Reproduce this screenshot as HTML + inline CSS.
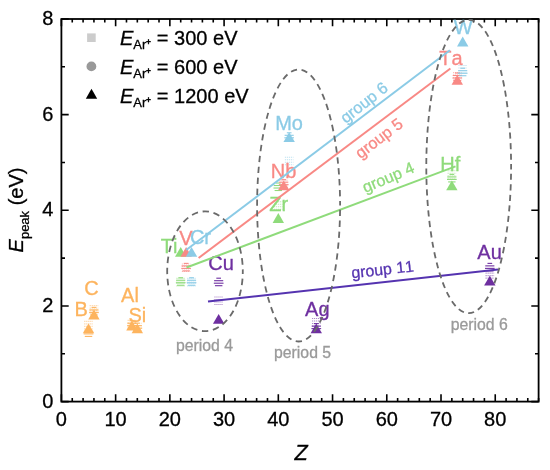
<!DOCTYPE html><html><head><meta charset="utf-8"><style>html,body{margin:0;padding:0;background:#fff;}svg{display:block;}</style></head><body>
<svg width="550" height="470" viewBox="0 0 550 470" style="font-family:'Liberation Sans',Arial,sans-serif;font-kerning:none">
<rect width="550" height="470" fill="#fff"/>
<path d="M61.40,401.60v-7.3M61.40,19v7.3M72.25,401.60v-3.6M72.25,19v3.6M83.09,401.60v-3.6M83.09,19v3.6M93.94,401.60v-3.6M93.94,19v3.6M104.78,401.60v-3.6M104.78,19v3.6M115.63,401.60v-7.3M115.63,19v7.3M126.48,401.60v-3.6M126.48,19v3.6M137.32,401.60v-3.6M137.32,19v3.6M148.17,401.60v-3.6M148.17,19v3.6M159.01,401.60v-3.6M159.01,19v3.6M169.86,401.60v-7.3M169.86,19v7.3M180.71,401.60v-3.6M180.71,19v3.6M191.55,401.60v-3.6M191.55,19v3.6M202.40,401.60v-3.6M202.40,19v3.6M213.24,401.60v-3.6M213.24,19v3.6M224.09,401.60v-7.3M224.09,19v7.3M234.94,401.60v-3.6M234.94,19v3.6M245.78,401.60v-3.6M245.78,19v3.6M256.63,401.60v-3.6M256.63,19v3.6M267.47,401.60v-3.6M267.47,19v3.6M278.32,401.60v-7.3M278.32,19v7.3M289.17,401.60v-3.6M289.17,19v3.6M300.01,401.60v-3.6M300.01,19v3.6M310.86,401.60v-3.6M310.86,19v3.6M321.70,401.60v-3.6M321.70,19v3.6M332.55,401.60v-7.3M332.55,19v7.3M343.40,401.60v-3.6M343.40,19v3.6M354.24,401.60v-3.6M354.24,19v3.6M365.09,401.60v-3.6M365.09,19v3.6M375.93,401.60v-3.6M375.93,19v3.6M386.78,401.60v-7.3M386.78,19v7.3M397.63,401.60v-3.6M397.63,19v3.6M408.47,401.60v-3.6M408.47,19v3.6M419.32,401.60v-3.6M419.32,19v3.6M430.16,401.60v-3.6M430.16,19v3.6M441.01,401.60v-7.3M441.01,19v7.3M451.86,401.60v-3.6M451.86,19v3.6M462.70,401.60v-3.6M462.70,19v3.6M473.55,401.60v-3.6M473.55,19v3.6M484.39,401.60v-3.6M484.39,19v3.6M495.24,401.60v-7.3M495.24,19v7.3M506.09,401.60v-3.6M506.09,19v3.6M516.93,401.60v-3.6M516.93,19v3.6M527.78,401.60v-3.6M527.78,19v3.6M538.62,401.60v-3.6M538.62,19v3.6M61.40,401.60h7.3M538.6,401.60h-7.3M61.40,353.77h3.6M538.6,353.77h-3.6M61.40,305.94h7.3M538.6,305.94h-7.3M61.40,258.11h3.6M538.6,258.11h-3.6M61.40,210.28h7.3M538.6,210.28h-7.3M61.40,162.45h3.6M538.6,162.45h-3.6M61.40,114.62h7.3M538.6,114.62h-7.3M61.40,66.79h3.6M538.6,66.79h-3.6M61.40,18.96h7.3M538.6,18.96h-7.3" stroke="#000" stroke-width="1.6" fill="none"/>
<rect x="61.4" y="19" width="477.20" height="382.60" fill="none" stroke="#000" stroke-width="1.8"/>
<line x1="84.22" y1="321.37" x2="92.81" y2="321.37" stroke="#FDB45E" stroke-width="1.1" opacity="0.55" stroke-dasharray="1.2 0.8"/><line x1="84.22" y1="323.87" x2="92.81" y2="323.87" stroke="#FDB45E" stroke-width="1.1" opacity="0.55" stroke-dasharray="1.2 0.8"/><line x1="84.22" y1="326.37" x2="92.81" y2="326.37" stroke="#FDB45E" stroke-width="1.1" opacity="0.55" stroke-dasharray="1.2 0.8"/><line x1="84.22" y1="328.87" x2="92.81" y2="328.87" stroke="#FDB45E" stroke-width="1.1" opacity="0.55" stroke-dasharray="1.2 0.8"/>
<line x1="86.17" y1="328.90" x2="90.86" y2="328.90" stroke="#FDB45E" stroke-width="1.1" opacity="1.0"/><line x1="83.96" y1="331.40" x2="93.07" y2="331.40" stroke="#FDB45E" stroke-width="1.1" opacity="1.0"/><line x1="83.67" y1="333.90" x2="93.36" y2="333.90" stroke="#FDB45E" stroke-width="1.1" opacity="1.0"/><line x1="84.80" y1="336.40" x2="92.23" y2="336.40" stroke="#FDB45E" stroke-width="1.1" opacity="1.0"/>
<polygon points="82.81,333.37 94.22,333.37 88.52,323.47" fill="#FDB45E"/>
<line x1="89.64" y1="305.59" x2="98.24" y2="305.59" stroke="#FDB45E" stroke-width="1.1" opacity="0.55" stroke-dasharray="1.2 0.8"/><line x1="89.64" y1="308.09" x2="98.24" y2="308.09" stroke="#FDB45E" stroke-width="1.1" opacity="0.55" stroke-dasharray="1.2 0.8"/><line x1="89.64" y1="310.59" x2="98.24" y2="310.59" stroke="#FDB45E" stroke-width="1.1" opacity="0.55" stroke-dasharray="1.2 0.8"/><line x1="89.64" y1="313.09" x2="98.24" y2="313.09" stroke="#FDB45E" stroke-width="1.1" opacity="0.55" stroke-dasharray="1.2 0.8"/>
<line x1="91.59" y1="307.38" x2="96.29" y2="307.38" stroke="#FDB45E" stroke-width="1.1" opacity="1.0"/><line x1="89.38" y1="309.88" x2="98.50" y2="309.88" stroke="#FDB45E" stroke-width="1.1" opacity="1.0"/><line x1="89.09" y1="312.38" x2="98.79" y2="312.38" stroke="#FDB45E" stroke-width="1.1" opacity="1.0"/><line x1="90.23" y1="314.88" x2="97.65" y2="314.88" stroke="#FDB45E" stroke-width="1.1" opacity="1.0"/>
<polygon points="88.24,319.50 99.64,319.50 93.94,309.60" fill="#FDB45E"/>
<line x1="127.60" y1="320.42" x2="136.20" y2="320.42" stroke="#FDB45E" stroke-width="1.1" opacity="0.55" stroke-dasharray="1.2 0.8"/><line x1="127.60" y1="322.92" x2="136.20" y2="322.92" stroke="#FDB45E" stroke-width="1.1" opacity="0.55" stroke-dasharray="1.2 0.8"/><line x1="127.60" y1="325.42" x2="136.20" y2="325.42" stroke="#FDB45E" stroke-width="1.1" opacity="0.55" stroke-dasharray="1.2 0.8"/><line x1="127.60" y1="327.92" x2="136.20" y2="327.92" stroke="#FDB45E" stroke-width="1.1" opacity="0.55" stroke-dasharray="1.2 0.8"/>
<line x1="129.55" y1="320.77" x2="134.25" y2="320.77" stroke="#FDB45E" stroke-width="1.1" opacity="1.0"/><line x1="127.34" y1="323.27" x2="136.46" y2="323.27" stroke="#FDB45E" stroke-width="1.1" opacity="1.0"/><line x1="127.05" y1="325.77" x2="136.75" y2="325.77" stroke="#FDB45E" stroke-width="1.1" opacity="1.0"/><line x1="128.19" y1="328.27" x2="135.61" y2="328.27" stroke="#FDB45E" stroke-width="1.1" opacity="1.0"/>
<polygon points="126.20,330.50 137.60,330.50 131.90,320.60" fill="#FDB45E"/>
<line x1="133.02" y1="323.29" x2="141.62" y2="323.29" stroke="#FDB45E" stroke-width="1.1" opacity="0.55" stroke-dasharray="1.2 0.8"/><line x1="133.02" y1="325.79" x2="141.62" y2="325.79" stroke="#FDB45E" stroke-width="1.1" opacity="0.55" stroke-dasharray="1.2 0.8"/><line x1="133.02" y1="328.29" x2="141.62" y2="328.29" stroke="#FDB45E" stroke-width="1.1" opacity="0.55" stroke-dasharray="1.2 0.8"/><line x1="133.02" y1="330.79" x2="141.62" y2="330.79" stroke="#FDB45E" stroke-width="1.1" opacity="0.55" stroke-dasharray="1.2 0.8"/>
<line x1="134.97" y1="323.16" x2="139.67" y2="323.16" stroke="#FDB45E" stroke-width="1.1" opacity="1.0"/><line x1="132.76" y1="325.66" x2="141.88" y2="325.66" stroke="#FDB45E" stroke-width="1.1" opacity="1.0"/><line x1="132.47" y1="328.16" x2="142.17" y2="328.16" stroke="#FDB45E" stroke-width="1.1" opacity="1.0"/><line x1="133.61" y1="330.66" x2="141.03" y2="330.66" stroke="#FDB45E" stroke-width="1.1" opacity="1.0"/>
<polygon points="131.62,333.37 143.02,333.37 137.32,323.47" fill="#FDB45E"/>
<line x1="176.41" y1="278.33" x2="185.01" y2="278.33" stroke="#8FDB7B" stroke-width="1.1" opacity="0.55" stroke-dasharray="1.2 0.8"/><line x1="176.41" y1="280.83" x2="185.01" y2="280.83" stroke="#8FDB7B" stroke-width="1.1" opacity="0.55" stroke-dasharray="1.2 0.8"/><line x1="176.41" y1="283.33" x2="185.01" y2="283.33" stroke="#8FDB7B" stroke-width="1.1" opacity="0.55" stroke-dasharray="1.2 0.8"/><line x1="176.41" y1="285.83" x2="185.01" y2="285.83" stroke="#8FDB7B" stroke-width="1.1" opacity="0.55" stroke-dasharray="1.2 0.8"/>
<line x1="178.36" y1="277.73" x2="183.06" y2="277.73" stroke="#8FDB7B" stroke-width="1.1" opacity="1.0"/><line x1="176.15" y1="280.23" x2="185.26" y2="280.23" stroke="#8FDB7B" stroke-width="1.1" opacity="1.0"/><line x1="175.86" y1="282.73" x2="185.56" y2="282.73" stroke="#8FDB7B" stroke-width="1.1" opacity="1.0"/><line x1="177.00" y1="285.23" x2="184.42" y2="285.23" stroke="#8FDB7B" stroke-width="1.1" opacity="1.0"/>
<polygon points="175.01,256.84 186.41,256.84 180.71,246.94" fill="#8FDB7B"/>
<line x1="181.83" y1="263.98" x2="190.43" y2="263.98" stroke="#F88985" stroke-width="1.1" opacity="0.55" stroke-dasharray="1.2 0.8"/><line x1="181.83" y1="266.48" x2="190.43" y2="266.48" stroke="#F88985" stroke-width="1.1" opacity="0.55" stroke-dasharray="1.2 0.8"/><line x1="181.83" y1="268.98" x2="190.43" y2="268.98" stroke="#F88985" stroke-width="1.1" opacity="0.55" stroke-dasharray="1.2 0.8"/><line x1="181.83" y1="271.48" x2="190.43" y2="271.48" stroke="#F88985" stroke-width="1.1" opacity="0.55" stroke-dasharray="1.2 0.8"/>
<line x1="183.78" y1="263.38" x2="188.48" y2="263.38" stroke="#F88985" stroke-width="1.1" opacity="1.0"/><line x1="181.57" y1="265.88" x2="190.69" y2="265.88" stroke="#F88985" stroke-width="1.1" opacity="1.0"/><line x1="181.28" y1="268.38" x2="190.98" y2="268.38" stroke="#F88985" stroke-width="1.1" opacity="1.0"/><line x1="182.42" y1="270.88" x2="189.84" y2="270.88" stroke="#F88985" stroke-width="1.1" opacity="1.0"/>
<polygon points="180.43,256.84 191.83,256.84 186.13,246.94" fill="#F88985"/>
<line x1="187.25" y1="278.33" x2="195.85" y2="278.33" stroke="#8BCBE6" stroke-width="1.1" opacity="0.55" stroke-dasharray="1.2 0.8"/><line x1="187.25" y1="280.83" x2="195.85" y2="280.83" stroke="#8BCBE6" stroke-width="1.1" opacity="0.55" stroke-dasharray="1.2 0.8"/><line x1="187.25" y1="283.33" x2="195.85" y2="283.33" stroke="#8BCBE6" stroke-width="1.1" opacity="0.55" stroke-dasharray="1.2 0.8"/><line x1="187.25" y1="285.83" x2="195.85" y2="285.83" stroke="#8BCBE6" stroke-width="1.1" opacity="0.55" stroke-dasharray="1.2 0.8"/>
<line x1="189.20" y1="277.73" x2="193.90" y2="277.73" stroke="#8BCBE6" stroke-width="1.1" opacity="1.0"/><line x1="186.99" y1="280.23" x2="196.11" y2="280.23" stroke="#8BCBE6" stroke-width="1.1" opacity="1.0"/><line x1="186.70" y1="282.73" x2="196.40" y2="282.73" stroke="#8BCBE6" stroke-width="1.1" opacity="1.0"/><line x1="187.84" y1="285.23" x2="195.26" y2="285.23" stroke="#8BCBE6" stroke-width="1.1" opacity="1.0"/>
<polygon points="185.85,256.84 197.25,256.84 191.55,246.94" fill="#8BCBE6"/>
<line x1="214.37" y1="296.98" x2="222.97" y2="296.98" stroke="#6E2FA0" stroke-width="1.1" opacity="0.55" stroke-dasharray="1.2 0.8"/><line x1="214.37" y1="299.48" x2="222.97" y2="299.48" stroke="#6E2FA0" stroke-width="1.1" opacity="0.55" stroke-dasharray="1.2 0.8"/><line x1="214.37" y1="301.98" x2="222.97" y2="301.98" stroke="#6E2FA0" stroke-width="1.1" opacity="0.55" stroke-dasharray="1.2 0.8"/><line x1="214.37" y1="304.48" x2="222.97" y2="304.48" stroke="#6E2FA0" stroke-width="1.1" opacity="0.55" stroke-dasharray="1.2 0.8"/>
<line x1="216.32" y1="278.20" x2="221.02" y2="278.20" stroke="#6E2FA0" stroke-width="1.1" opacity="1.0"/><line x1="214.11" y1="280.70" x2="223.22" y2="280.70" stroke="#6E2FA0" stroke-width="1.1" opacity="1.0"/><line x1="213.82" y1="283.20" x2="223.52" y2="283.20" stroke="#6E2FA0" stroke-width="1.1" opacity="1.0"/><line x1="214.96" y1="285.70" x2="222.38" y2="285.70" stroke="#6E2FA0" stroke-width="1.1" opacity="1.0"/>
<polygon points="212.97,323.80 224.37,323.80 218.67,313.90" fill="#6E2FA0"/>
<line x1="274.02" y1="201.80" x2="282.62" y2="201.80" stroke="#8FDB7B" stroke-width="1.1" opacity="0.55" stroke-dasharray="1.2 0.8"/><line x1="274.02" y1="204.30" x2="282.62" y2="204.30" stroke="#8FDB7B" stroke-width="1.1" opacity="0.55" stroke-dasharray="1.2 0.8"/><line x1="274.02" y1="206.80" x2="282.62" y2="206.80" stroke="#8FDB7B" stroke-width="1.1" opacity="0.55" stroke-dasharray="1.2 0.8"/><line x1="274.02" y1="209.30" x2="282.62" y2="209.30" stroke="#8FDB7B" stroke-width="1.1" opacity="0.55" stroke-dasharray="1.2 0.8"/>
<line x1="275.97" y1="183.02" x2="280.67" y2="183.02" stroke="#8FDB7B" stroke-width="1.1" opacity="1.0"/><line x1="273.76" y1="185.52" x2="282.88" y2="185.52" stroke="#8FDB7B" stroke-width="1.1" opacity="1.0"/><line x1="273.47" y1="188.02" x2="283.17" y2="188.02" stroke="#8FDB7B" stroke-width="1.1" opacity="1.0"/><line x1="274.61" y1="190.52" x2="282.03" y2="190.52" stroke="#8FDB7B" stroke-width="1.1" opacity="1.0"/>
<polygon points="272.62,222.88 284.02,222.88 278.32,212.98" fill="#8FDB7B"/>
<line x1="279.44" y1="180.27" x2="288.04" y2="180.27" stroke="#F88985" stroke-width="1.1" opacity="0.55" stroke-dasharray="1.2 0.8"/><line x1="279.44" y1="182.77" x2="288.04" y2="182.77" stroke="#F88985" stroke-width="1.1" opacity="0.55" stroke-dasharray="1.2 0.8"/><line x1="279.44" y1="185.27" x2="288.04" y2="185.27" stroke="#F88985" stroke-width="1.1" opacity="0.55" stroke-dasharray="1.2 0.8"/><line x1="279.44" y1="187.77" x2="288.04" y2="187.77" stroke="#F88985" stroke-width="1.1" opacity="0.55" stroke-dasharray="1.2 0.8"/>
<line x1="281.39" y1="179.67" x2="286.09" y2="179.67" stroke="#F88985" stroke-width="1.1" opacity="1.0"/><line x1="279.19" y1="182.17" x2="288.30" y2="182.17" stroke="#F88985" stroke-width="1.1" opacity="1.0"/><line x1="278.89" y1="184.67" x2="288.59" y2="184.67" stroke="#F88985" stroke-width="1.1" opacity="1.0"/><line x1="280.03" y1="187.17" x2="287.45" y2="187.17" stroke="#F88985" stroke-width="1.1" opacity="1.0"/>
<polygon points="278.04,190.36 289.44,190.36 283.74,180.46" fill="#F88985"/>
<line x1="284.87" y1="157.32" x2="293.47" y2="157.32" stroke="#8BCBE6" stroke-width="1.1" opacity="0.55" stroke-dasharray="1.2 0.8"/><line x1="284.87" y1="159.82" x2="293.47" y2="159.82" stroke="#8BCBE6" stroke-width="1.1" opacity="0.55" stroke-dasharray="1.2 0.8"/><line x1="284.87" y1="162.32" x2="293.47" y2="162.32" stroke="#8BCBE6" stroke-width="1.1" opacity="0.55" stroke-dasharray="1.2 0.8"/><line x1="284.87" y1="164.82" x2="293.47" y2="164.82" stroke="#8BCBE6" stroke-width="1.1" opacity="0.55" stroke-dasharray="1.2 0.8"/>
<line x1="286.82" y1="132.80" x2="291.52" y2="132.80" stroke="#8BCBE6" stroke-width="1.1" opacity="1.0"/><line x1="284.61" y1="135.30" x2="293.72" y2="135.30" stroke="#8BCBE6" stroke-width="1.1" opacity="1.0"/><line x1="284.32" y1="137.80" x2="294.02" y2="137.80" stroke="#8BCBE6" stroke-width="1.1" opacity="1.0"/><line x1="285.46" y1="140.30" x2="292.88" y2="140.30" stroke="#8BCBE6" stroke-width="1.1" opacity="1.0"/>
<polygon points="283.47,142.05 294.87,142.05 289.17,132.15" fill="#8BCBE6"/>
<line x1="311.98" y1="318.50" x2="320.58" y2="318.50" stroke="#6E2FA0" stroke-width="1.1" opacity="0.55" stroke-dasharray="1.2 0.8"/><line x1="311.98" y1="321.00" x2="320.58" y2="321.00" stroke="#6E2FA0" stroke-width="1.1" opacity="0.55" stroke-dasharray="1.2 0.8"/><line x1="311.98" y1="323.50" x2="320.58" y2="323.50" stroke="#6E2FA0" stroke-width="1.1" opacity="0.55" stroke-dasharray="1.2 0.8"/><line x1="311.98" y1="326.00" x2="320.58" y2="326.00" stroke="#6E2FA0" stroke-width="1.1" opacity="0.55" stroke-dasharray="1.2 0.8"/>
<line x1="313.93" y1="323.64" x2="318.63" y2="323.64" stroke="#6E2FA0" stroke-width="1.1" opacity="1.0"/><line x1="311.72" y1="326.14" x2="320.84" y2="326.14" stroke="#6E2FA0" stroke-width="1.1" opacity="1.0"/><line x1="311.43" y1="328.64" x2="321.13" y2="328.64" stroke="#6E2FA0" stroke-width="1.1" opacity="1.0"/><line x1="312.57" y1="331.14" x2="319.99" y2="331.14" stroke="#6E2FA0" stroke-width="1.1" opacity="1.0"/>
<polygon points="310.58,333.37 321.98,333.37 316.28,323.47" fill="#6E2FA0"/>
<line x1="447.56" y1="170.71" x2="456.16" y2="170.71" stroke="#8FDB7B" stroke-width="1.1" opacity="0.55" stroke-dasharray="1.2 0.8"/><line x1="447.56" y1="173.21" x2="456.16" y2="173.21" stroke="#8FDB7B" stroke-width="1.1" opacity="0.55" stroke-dasharray="1.2 0.8"/><line x1="447.56" y1="175.71" x2="456.16" y2="175.71" stroke="#8FDB7B" stroke-width="1.1" opacity="0.55" stroke-dasharray="1.2 0.8"/><line x1="447.56" y1="178.21" x2="456.16" y2="178.21" stroke="#8FDB7B" stroke-width="1.1" opacity="0.55" stroke-dasharray="1.2 0.8"/>
<line x1="449.51" y1="174.41" x2="454.21" y2="174.41" stroke="#8FDB7B" stroke-width="1.1" opacity="1.0"/><line x1="447.30" y1="176.91" x2="456.41" y2="176.91" stroke="#8FDB7B" stroke-width="1.1" opacity="1.0"/><line x1="447.01" y1="179.41" x2="456.71" y2="179.41" stroke="#8FDB7B" stroke-width="1.1" opacity="1.0"/><line x1="448.15" y1="181.91" x2="455.57" y2="181.91" stroke="#8FDB7B" stroke-width="1.1" opacity="1.0"/>
<polygon points="446.16,190.36 457.56,190.36 451.86,180.46" fill="#8FDB7B"/>
<line x1="452.98" y1="72.66" x2="461.58" y2="72.66" stroke="#F88985" stroke-width="1.1" opacity="0.55" stroke-dasharray="1.2 0.8"/><line x1="452.98" y1="75.16" x2="461.58" y2="75.16" stroke="#F88985" stroke-width="1.1" opacity="0.55" stroke-dasharray="1.2 0.8"/><line x1="452.98" y1="77.66" x2="461.58" y2="77.66" stroke="#F88985" stroke-width="1.1" opacity="0.55" stroke-dasharray="1.2 0.8"/><line x1="452.98" y1="80.16" x2="461.58" y2="80.16" stroke="#F88985" stroke-width="1.1" opacity="0.55" stroke-dasharray="1.2 0.8"/>
<line x1="454.93" y1="73.01" x2="459.63" y2="73.01" stroke="#F88985" stroke-width="1.1" opacity="1.0"/><line x1="452.72" y1="75.51" x2="461.84" y2="75.51" stroke="#F88985" stroke-width="1.1" opacity="1.0"/><line x1="452.43" y1="78.01" x2="462.13" y2="78.01" stroke="#F88985" stroke-width="1.1" opacity="1.0"/><line x1="453.57" y1="80.51" x2="460.99" y2="80.51" stroke="#F88985" stroke-width="1.1" opacity="1.0"/>
<polygon points="451.58,84.65 462.98,84.65 457.28,74.75" fill="#F88985"/>
<line x1="458.40" y1="65.48" x2="467.00" y2="65.48" stroke="#8BCBE6" stroke-width="1.1" opacity="0.55" stroke-dasharray="1.2 0.8"/><line x1="458.40" y1="67.98" x2="467.00" y2="67.98" stroke="#8BCBE6" stroke-width="1.1" opacity="0.55" stroke-dasharray="1.2 0.8"/><line x1="458.40" y1="70.48" x2="467.00" y2="70.48" stroke="#8BCBE6" stroke-width="1.1" opacity="0.55" stroke-dasharray="1.2 0.8"/><line x1="458.40" y1="72.98" x2="467.00" y2="72.98" stroke="#8BCBE6" stroke-width="1.1" opacity="0.55" stroke-dasharray="1.2 0.8"/>
<line x1="460.35" y1="68.23" x2="465.05" y2="68.23" stroke="#8BCBE6" stroke-width="1.1" opacity="1.0"/><line x1="458.14" y1="70.73" x2="467.26" y2="70.73" stroke="#8BCBE6" stroke-width="1.1" opacity="1.0"/><line x1="457.85" y1="73.23" x2="467.55" y2="73.23" stroke="#8BCBE6" stroke-width="1.1" opacity="1.0"/><line x1="458.99" y1="75.73" x2="466.41" y2="75.73" stroke="#8BCBE6" stroke-width="1.1" opacity="1.0"/>
<polygon points="457.00,46.39 468.40,46.39 462.70,36.49" fill="#8BCBE6"/>
<line x1="485.52" y1="270.67" x2="494.12" y2="270.67" stroke="#6E2FA0" stroke-width="1.1" opacity="0.55" stroke-dasharray="1.2 0.8"/><line x1="485.52" y1="273.17" x2="494.12" y2="273.17" stroke="#6E2FA0" stroke-width="1.1" opacity="0.55" stroke-dasharray="1.2 0.8"/><line x1="485.52" y1="275.67" x2="494.12" y2="275.67" stroke="#6E2FA0" stroke-width="1.1" opacity="0.55" stroke-dasharray="1.2 0.8"/><line x1="485.52" y1="278.17" x2="494.12" y2="278.17" stroke="#6E2FA0" stroke-width="1.1" opacity="0.55" stroke-dasharray="1.2 0.8"/>
<line x1="487.47" y1="263.38" x2="492.17" y2="263.38" stroke="#6E2FA0" stroke-width="1.1" opacity="1.0"/><line x1="485.26" y1="265.88" x2="494.37" y2="265.88" stroke="#6E2FA0" stroke-width="1.1" opacity="1.0"/><line x1="484.97" y1="268.38" x2="494.67" y2="268.38" stroke="#6E2FA0" stroke-width="1.1" opacity="1.0"/><line x1="486.11" y1="270.88" x2="493.53" y2="270.88" stroke="#6E2FA0" stroke-width="1.1" opacity="1.0"/>
<polygon points="484.12,285.54 495.52,285.54 489.82,275.64" fill="#6E2FA0"/>
<text x="74.4" y="315.7" font-size="20" fill="#FDB45E" stroke="#FDB45E" stroke-width="0.3">B</text>
<text x="84.3" y="294.8" font-size="20" fill="#FDB45E" stroke="#FDB45E" stroke-width="0.3">C</text>
<text x="121.1" y="301.9" font-size="20" fill="#FDB45E" stroke="#FDB45E" stroke-width="0.3">Al</text>
<text x="128.4" y="322.2" font-size="20" fill="#FDB45E" stroke="#FDB45E" stroke-width="0.3">Si</text>
<text x="160.8" y="253.2" font-size="20" fill="#8FDB7B" stroke="#8FDB7B" stroke-width="0.3">Ti</text>
<text x="179.2" y="245.1" font-size="20" fill="#F88985" stroke="#F88985" stroke-width="0.3">V</text>
<text x="189.9" y="244.1" font-size="20" fill="#8BCBE6" stroke="#8BCBE6" stroke-width="0.3">Cr</text>
<text x="208.3" y="270.1" font-size="20" fill="#6E2FA0" stroke="#6E2FA0" stroke-width="0.3">Cu</text>
<text x="269.2" y="210.9" font-size="20" fill="#8FDB7B" stroke="#8FDB7B" stroke-width="0.3">Zr</text>
<text x="270.8" y="178.1" font-size="20" fill="#F88985" stroke="#F88985" stroke-width="0.3">Nb</text>
<text x="275.2" y="129.9" font-size="20" fill="#8BCBE6" stroke="#8BCBE6" stroke-width="0.3">Mo</text>
<text x="305.1" y="316.4" font-size="20" fill="#6E2FA0" stroke="#6E2FA0" stroke-width="0.3">Ag</text>
<text x="440.2" y="171.2" font-size="20" fill="#8FDB7B" stroke="#8FDB7B" stroke-width="0.3">Hf</text>
<text x="439.2" y="65.4" font-size="20" fill="#F88985" stroke="#F88985" stroke-width="0.3">Ta</text>
<text x="453.7" y="33.6" font-size="20" fill="#8BCBE6" stroke="#8BCBE6" stroke-width="0.3">W</text>
<text x="477.3" y="258.7" font-size="20" fill="#6E2FA0" stroke="#6E2FA0" stroke-width="0.3">Au</text>
<line x1="186.2" y1="250.0" x2="449.9" y2="50.3" stroke="#8BCBE6" stroke-width="2"/>
<line x1="198.6" y1="258.0" x2="450.4" y2="68.5" stroke="#F88985" stroke-width="2"/>
<line x1="186.5" y1="267.5" x2="455.5" y2="166.4" stroke="#8FDB7B" stroke-width="2"/>
<line x1="208.0" y1="301.5" x2="498.0" y2="269.5" stroke="#5533B0" stroke-width="2"/>
<text x="345.7" y="124.0" font-size="16.3" fill="#8BCBE6" transform="rotate(-38.0 345.7 124.0)" stroke="#8BCBE6" stroke-width="0.3">group 6</text>
<text x="360.5" y="159.3" font-size="16.2" fill="#F88985" transform="rotate(-37.3 360.5 159.3)" stroke="#F88985" stroke-width="0.3">group 5</text>
<text x="365.3" y="193.0" font-size="16.1" fill="#8FDB7B" transform="rotate(-23.0 365.3 193.0)" stroke="#8FDB7B" stroke-width="0.3">group 4</text>
<text x="352.0" y="278.3" font-size="15.9" fill="#5533B0" transform="rotate(-6.3 352.0 278.3)" stroke="#5533B0" stroke-width="0.3">group 11</text>
<g fill="none" stroke="#6A6A6A" stroke-width="1.8">
<ellipse cx="205.0" cy="271.3" rx="37.8" ry="59.9" stroke-dasharray="6.47 4.68" stroke-dashoffset="3.8"/>
<ellipse cx="298.6" cy="205.5" rx="41.5" ry="136" stroke-dasharray="6.32 4.58" stroke-dashoffset="6.6"/>
<ellipse cx="468.7" cy="166.5" rx="42.4" ry="146.7" stroke-dasharray="6.09 4.41" stroke-dashoffset="3.1"/>
</g>
<text x="175.9" y="351.0" font-size="15.8" fill="#9A9A9A" stroke="#9A9A9A" stroke-width="0.3">period 4</text>
<text x="274.0" y="357.8" font-size="15.8" fill="#9A9A9A" stroke="#9A9A9A" stroke-width="0.3">period 5</text>
<text x="450.7" y="329.6" font-size="15.8" fill="#9A9A9A" stroke="#9A9A9A" stroke-width="0.3">period 6</text>
<text x="61.40" y="425.6" font-size="20" text-anchor="middle" stroke="#000" stroke-width="0.3">0</text>
<text x="115.63" y="425.6" font-size="20" text-anchor="middle" stroke="#000" stroke-width="0.3">10</text>
<text x="169.86" y="425.6" font-size="20" text-anchor="middle" stroke="#000" stroke-width="0.3">20</text>
<text x="224.09" y="425.6" font-size="20" text-anchor="middle" stroke="#000" stroke-width="0.3">30</text>
<text x="278.32" y="425.6" font-size="20" text-anchor="middle" stroke="#000" stroke-width="0.3">40</text>
<text x="332.55" y="425.6" font-size="20" text-anchor="middle" stroke="#000" stroke-width="0.3">50</text>
<text x="386.78" y="425.6" font-size="20" text-anchor="middle" stroke="#000" stroke-width="0.3">60</text>
<text x="441.01" y="425.6" font-size="20" text-anchor="middle" stroke="#000" stroke-width="0.3">70</text>
<text x="495.24" y="425.6" font-size="20" text-anchor="middle" stroke="#000" stroke-width="0.3">80</text>
<text x="53.3" y="408.10" font-size="20" text-anchor="end" stroke="#000" stroke-width="0.3">0</text>
<text x="53.3" y="312.26" font-size="20" text-anchor="end" stroke="#000" stroke-width="0.3">2</text>
<text x="53.3" y="216.42" font-size="20" text-anchor="end" stroke="#000" stroke-width="0.3">4</text>
<text x="53.3" y="120.58" font-size="20" text-anchor="end" stroke="#000" stroke-width="0.3">6</text>
<text x="53.3" y="24.74" font-size="20" text-anchor="end" stroke="#000" stroke-width="0.3">8</text>
<text transform="translate(301.2 459.9) scale(0.95 1)" x="0" y="0" font-size="22.8" font-style="italic" text-anchor="middle" stroke="#000" stroke-width="0.3">Z</text>
<text transform="translate(23.2 210) rotate(-90)" font-size="20" text-anchor="middle" stroke="#000" stroke-width="0.3"><tspan font-style="italic">E</tspan><tspan font-size="13" dy="6">peak</tspan><tspan dy="-6"> (eV)</tspan></text>
<rect x="87.1" y="33.4" width="8.6" height="8.6" fill="#CCCCCC"/>
<circle cx="91.4" cy="66.4" r="4.9" fill="#999999"/>
<polygon points="85.80,98.65 97.20,98.65 91.50,88.75" fill="#000"/>
<text x="120.0" y="44.6" font-size="20" stroke="#000" stroke-width="0.3"><tspan font-style="italic">E</tspan><tspan font-size="13" dy="4.7">Ar</tspan><tspan font-size="8.5" font-weight="bold" dy="-4.4" dx="-0.3">+</tspan><tspan dy="-0.3" dx="0.3"> = 300 eV</tspan></text>
<text x="120.0" y="73.6" font-size="20" stroke="#000" stroke-width="0.3"><tspan font-style="italic">E</tspan><tspan font-size="13" dy="4.7">Ar</tspan><tspan font-size="8.5" font-weight="bold" dy="-4.4" dx="-0.3">+</tspan><tspan dy="-0.3" dx="0.3"> = 600 eV</tspan></text>
<text x="120.0" y="102.6" font-size="20" stroke="#000" stroke-width="0.3"><tspan font-style="italic">E</tspan><tspan font-size="13" dy="4.7">Ar</tspan><tspan font-size="8.5" font-weight="bold" dy="-4.4" dx="-0.3">+</tspan><tspan dy="-0.3" dx="0.3"> = 1200 eV</tspan></text>
</svg></body></html>
